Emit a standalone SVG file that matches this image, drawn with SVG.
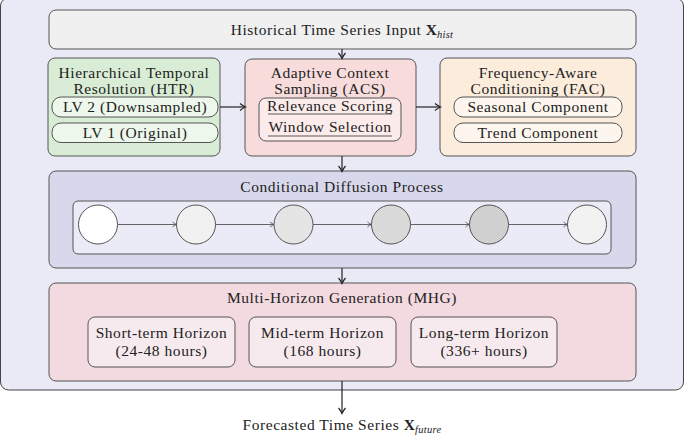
<svg xmlns="http://www.w3.org/2000/svg" width="685" height="437" viewBox="0 0 685 437" font-family="'Liberation Serif', 'DejaVu Serif', serif">
<defs>
<style>
text{font-family:'Liberation Serif','DejaVu Serif',serif;font-size:15.5px;letter-spacing:0.55px;fill:#222;text-anchor:middle}
.box{stroke:#555;stroke-width:1}
.arr{stroke:#222;stroke-width:1.2;fill:none}
.thin{stroke:#555;stroke-width:0.9;fill:none}
.circ{stroke:#555;stroke-width:1}
.b{font-weight:bold;letter-spacing:0}
.sub{font-style:italic;font-size:10.5px;letter-spacing:0.3px}
</style>
<marker id="ah" markerWidth="10" markerHeight="10" refX="7" refY="5" orient="auto" markerUnits="userSpaceOnUse">
<path d="M2,1.5 Q5,4 7.5,5 Q5,6 2,8.5" fill="none" stroke="#222" stroke-width="1.2"/>
</marker>
<marker id="ah2" markerWidth="8" markerHeight="8" refX="6" refY="4" orient="auto" markerUnits="userSpaceOnUse">
<path d="M2,1.5 Q4,3.3 6,4 Q4,4.7 2,6.5" fill="none" stroke="#555" stroke-width="0.9"/>
</marker>
</defs>
<g id="background">
<rect x="0.5" y="-2" width="683" height="392" rx="8" fill="#eaeaf6" stroke="#444" stroke-width="1"/>
</g>
<g id="input">
<rect class="box" x="49" y="10" width="587" height="39" rx="7" fill="#f0f0f0"/>
<text x="342" y="35">Historical Time Series Input <tspan class="b">X</tspan><tspan class="sub" dy="3">hist</tspan></text>
</g>
<g id="htr">
<rect class="box" x="48" y="58" width="172" height="98" rx="7" fill="#d9ecd6"/>
<text x="134" y="78">Hierarchical Temporal</text>
<text x="134" y="94">Resolution (HTR)</text>
<g id="lv2"><rect class="box" x="52" y="97" width="166" height="20" rx="9" fill="#eef7ec"/>
<text x="135" y="112">LV 2 (Downsampled)</text></g>
<g id="lv1"><rect class="box" x="52" y="123" width="166" height="19.5" rx="9" fill="#eef7ec"/>
<text x="135" y="137.5">LV 1 (Original)</text></g>
</g>
<g id="acs">
<rect class="box" x="245" y="59" width="171" height="97" rx="7" fill="#f8dcdc"/>
<text x="330" y="78">Adaptive Context</text>
<text x="330" y="94">Sampling (ACS)</text>
<rect class="box" x="259" y="98" width="142" height="43" rx="7" fill="#fbebeb"/>
<text x="330" y="111">Relevance Scoring</text>
<line x1="268" y1="114" x2="392" y2="114" stroke="#333" stroke-width="0.8"/>
<text x="330" y="132">Window Selection</text>
<line x1="268" y1="136" x2="392" y2="136" stroke="#333" stroke-width="0.8"/>
</g>
<g id="fac">
<rect class="box" x="440" y="58" width="196" height="98" rx="7" fill="#fbecdc"/>
<text x="538" y="78">Frequency-Aware</text>
<text x="538" y="94">Conditioning (FAC)</text>
<g id="seasonal"><rect class="box" x="454" y="97" width="168" height="20" rx="9" fill="#fdf6ee"/>
<text x="538" y="112">Seasonal Component</text></g>
<g id="trend"><rect class="box" x="454" y="123" width="168" height="19.5" rx="9" fill="#fdf6ee"/>
<text x="538" y="137.5">Trend Component</text></g>
</g>
<g id="diffusion">
<rect class="box" x="49" y="171" width="587" height="97" rx="7" fill="#d8d8ec"/>
<text x="342" y="192">Conditional Diffusion Process</text>
<rect class="box" x="73" y="201" width="538" height="53" rx="5" fill="#ebebf7"/>
<circle id="s1" class="circ" cx="98" cy="224.5" r="19.5" fill="#ffffff"/>
<circle id="s2" class="circ" cx="196" cy="224.5" r="19.5" fill="#f1f1f1"/>
<circle id="s3" class="circ" cx="293.5" cy="224.5" r="19.5" fill="#e5e5e5"/>
<circle id="s4" class="circ" cx="391" cy="224.5" r="19.5" fill="#dadada"/>
<circle id="s5" class="circ" cx="489" cy="224.5" r="19.5" fill="#d0d0d0"/>
<circle id="s6" class="circ" cx="587" cy="224.5" r="19.5" fill="#f2f2f2"/>
</g>
<g id="mhg">
<rect class="box" x="49" y="283" width="587" height="98" rx="7" fill="#f3d9e0"/>
<text x="342" y="303">Multi-Horizon Generation (MHG)</text>
<g id="short"><rect class="box" x="88" y="317" width="147" height="50" rx="7" fill="#f6eaee"/>
<text x="161.5" y="338">Short-term Horizon</text>
<text x="161.5" y="356">(24-48 hours)</text></g>
<g id="mid"><rect class="box" x="249" y="317" width="147" height="50" rx="7" fill="#f6eaee"/>
<text x="322.5" y="338">Mid-term Horizon</text>
<text x="322.5" y="356">(168 hours)</text></g>
<g id="long"><rect class="box" x="411" y="317" width="146" height="50" rx="7" fill="#f6eaee"/>
<text x="484" y="338">Long-term Horizon</text>
<text x="484" y="356">(336+ hours)</text></g>
</g>
<g id="output">
<text x="342" y="430">Forecasted Time Series <tspan class="b">X</tspan><tspan class="sub" dy="2.5">future</tspan></text>
</g>
<g id="connectors">
<line class="arr" x1="342" y1="49" x2="342" y2="58" marker-end="url(#ah)"/>
<line class="arr" x1="220" y1="107" x2="245" y2="107" marker-end="url(#ah)"/>
<line class="arr" x1="416" y1="107" x2="440" y2="107" marker-end="url(#ah)"/>
<line class="arr" x1="342" y1="156" x2="342" y2="171" marker-end="url(#ah)"/>
<line class="arr" x1="342" y1="268" x2="342" y2="283" marker-end="url(#ah)"/>
<line class="arr" x1="342" y1="381" x2="342" y2="413" marker-end="url(#ah)"/>
<line class="thin" x1="117.5" y1="224.5" x2="176.5" y2="224.5" marker-end="url(#ah2)"/>
<line class="thin" x1="215.5" y1="224.5" x2="274" y2="224.5" marker-end="url(#ah2)"/>
<line class="thin" x1="313" y1="224.5" x2="371.5" y2="224.5" marker-end="url(#ah2)"/>
<line class="thin" x1="410.5" y1="224.5" x2="469.5" y2="224.5" marker-end="url(#ah2)"/>
<line class="thin" x1="508.5" y1="224.5" x2="567.5" y2="224.5" marker-end="url(#ah2)"/>
</g>
</svg>
